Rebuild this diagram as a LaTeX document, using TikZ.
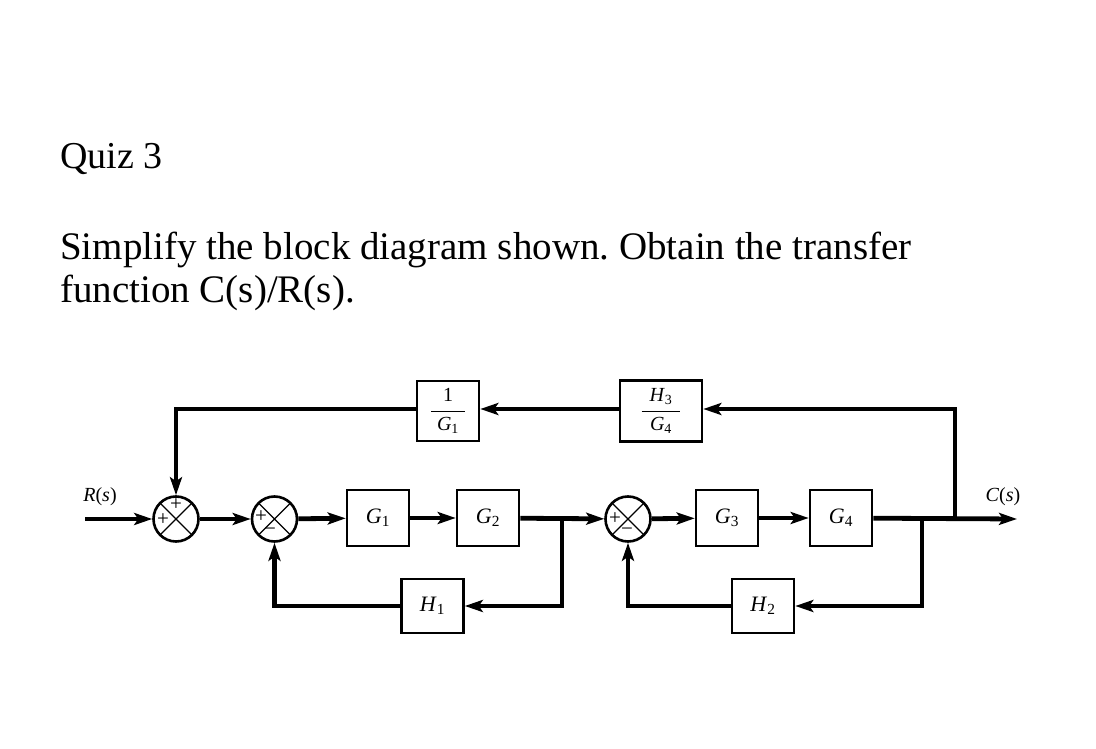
\documentclass[tikz,border=0pt]{standalone}
\usepackage{fontspec}
\setmainfont{Liberation Serif}
\usetikzlibrary{arrows.meta}
\newcommand{\sbs}[2]{\textit{#1}\textsubscript{#2}}
\frenchspacing
\begin{document}
\begin{tikzpicture}[x=1pt,y=-1pt,
 sig/.style={line width=4.8pt, line join=miter, -{Stealth[length=18pt,width=12pt,inset=4pt]}},
 blk/.style={draw, line width=2.6pt, minimum width=62pt, minimum height=56pt, inner sep=0pt, font=\fontsize{22}{26}\selectfont},
 sumj/.style={draw, circle, line width=2.6pt, minimum size=45pt, inner sep=0pt,
   path picture={\draw[line width=1.3pt] (path picture bounding box.north west) -- (path picture bounding box.south east) (path picture bounding box.north east) -- (path picture bounding box.south west);}},
 sign/.style={font=\fontsize{21}{21}\selectfont, inner sep=0pt},
 lab/.style={font=\fontsize{20}{24}\selectfont, inner sep=0pt},
 big/.style={anchor=base west, inner sep=0pt, font=\fontsize{39}{46}\selectfont}
]
\fill[white] (0,0) rectangle (1096,749);
\useasboundingbox (0,0) rectangle (1096,749);

% texts
\node[big, font=\fontsize{38}{45}\selectfont] (quiz) at (60,169) {Quiz 3};
\node[big] (q1) at (60,259) {Simplify the block diagram shown. Obtain the transfer};
\node[big] (q2) at (60,302) {function C(s)/R(s).};

% summing junctions
\node[sumj] (s1) at (176,519) {};
\node[sumj] (s2) at (274.5,519) {};
\node[sumj] (s3) at (628,519) {};
\node[sign] (s1a) at (163,520) {+};
\node[sign] (s1b) at (176,505) {+};
\node[sign] (s2a) at (261,517) {+};
\node[sign] (s2b) at (270,532) {−};
\node[sign] (s3a) at (615,519) {+};
\node[sign] (s3b) at (627,532) {−};

% blocks
\node[blk] (g1) at (378,518) {\sbs{G}{1}};
\node[blk] (g2) at (488,518) {\sbs{G}{2}};
\node[blk] (g3) at (727,518) {\sbs{G}{3}};
\node[blk] (g4) at (841,518) {\sbs{G}{4}};
\node[blk, minimum height=54pt] (h1) at (432.5,606) {\sbs{H}{1}};
\node[blk, minimum height=54pt] (h2) at (763,606) {\sbs{H}{2}};
\node[blk, minimum height=60pt, font=\fontsize{20}{24}\selectfont] (ig) at (448,411)
  {$\displaystyle\frac{\mbox{1}}{\mbox{\hspace{6pt}\sbs{G}{1}\hspace{6pt}}}$};
\node[blk, minimum width=82pt, minimum height=61pt, font=\fontsize{20}{24}\selectfont] (hg) at (661,411)
  {$\displaystyle\frac{\mbox{\hspace{8pt}\sbs{H}{3}\hspace{8pt}}}{\mbox{\hspace{8pt}\sbs{G}{4}\hspace{8pt}}}$};

% labels
\node[lab] (rl) at (100,497) {\textit{R}(\textit{s})};
\node[lab] (cl) at (1003,497) {\textit{C}(\textit{s})};

% coordinates
\coordinate (in) at (85,519);
\coordinate (out) at (1017,519);
\coordinate (b1) at (562,519);
\coordinate (b1d) at (562,606);
\coordinate (f1) at (274.5,606);
\coordinate (b2) at (922,519);
\coordinate (b2d) at (922,606);
\coordinate (f2) at (628,606);
\coordinate (b3) at (955,519);
\coordinate (b3u) at (955,409);
\coordinate (t1) at (176,409);

% main path
\draw[sig] (in) -- (s1);
\draw[sig] (s1) -- (s2);
\draw[sig] (s2) -- (g1);
\draw[sig] (g1) -- (g2);
\draw[sig] (g2) -- (s3);
\draw[sig] (s3) -- (g3);
\draw[sig] (g3) -- (g4);
\draw[sig] (g4) -- (out);

% inner feedback loops
\draw[sig] (b1) -- (b1d) -- (h1);
\draw[sig] (h1) -- (f1) -- (s2);
\draw[sig] (b2) -- (b2d) -- (h2);
\draw[sig] (h2) -- (f2) -- (s3);

% outer feedback
\draw[sig] (b3) -- (b3u) -- (hg.east |- b3u);
\draw[sig] (hg.west |- b3u) -- (ig.east |- b3u);
\draw[sig] (ig.west |- b3u) -- (t1) -- (s1);
\end{tikzpicture}
\end{document}
